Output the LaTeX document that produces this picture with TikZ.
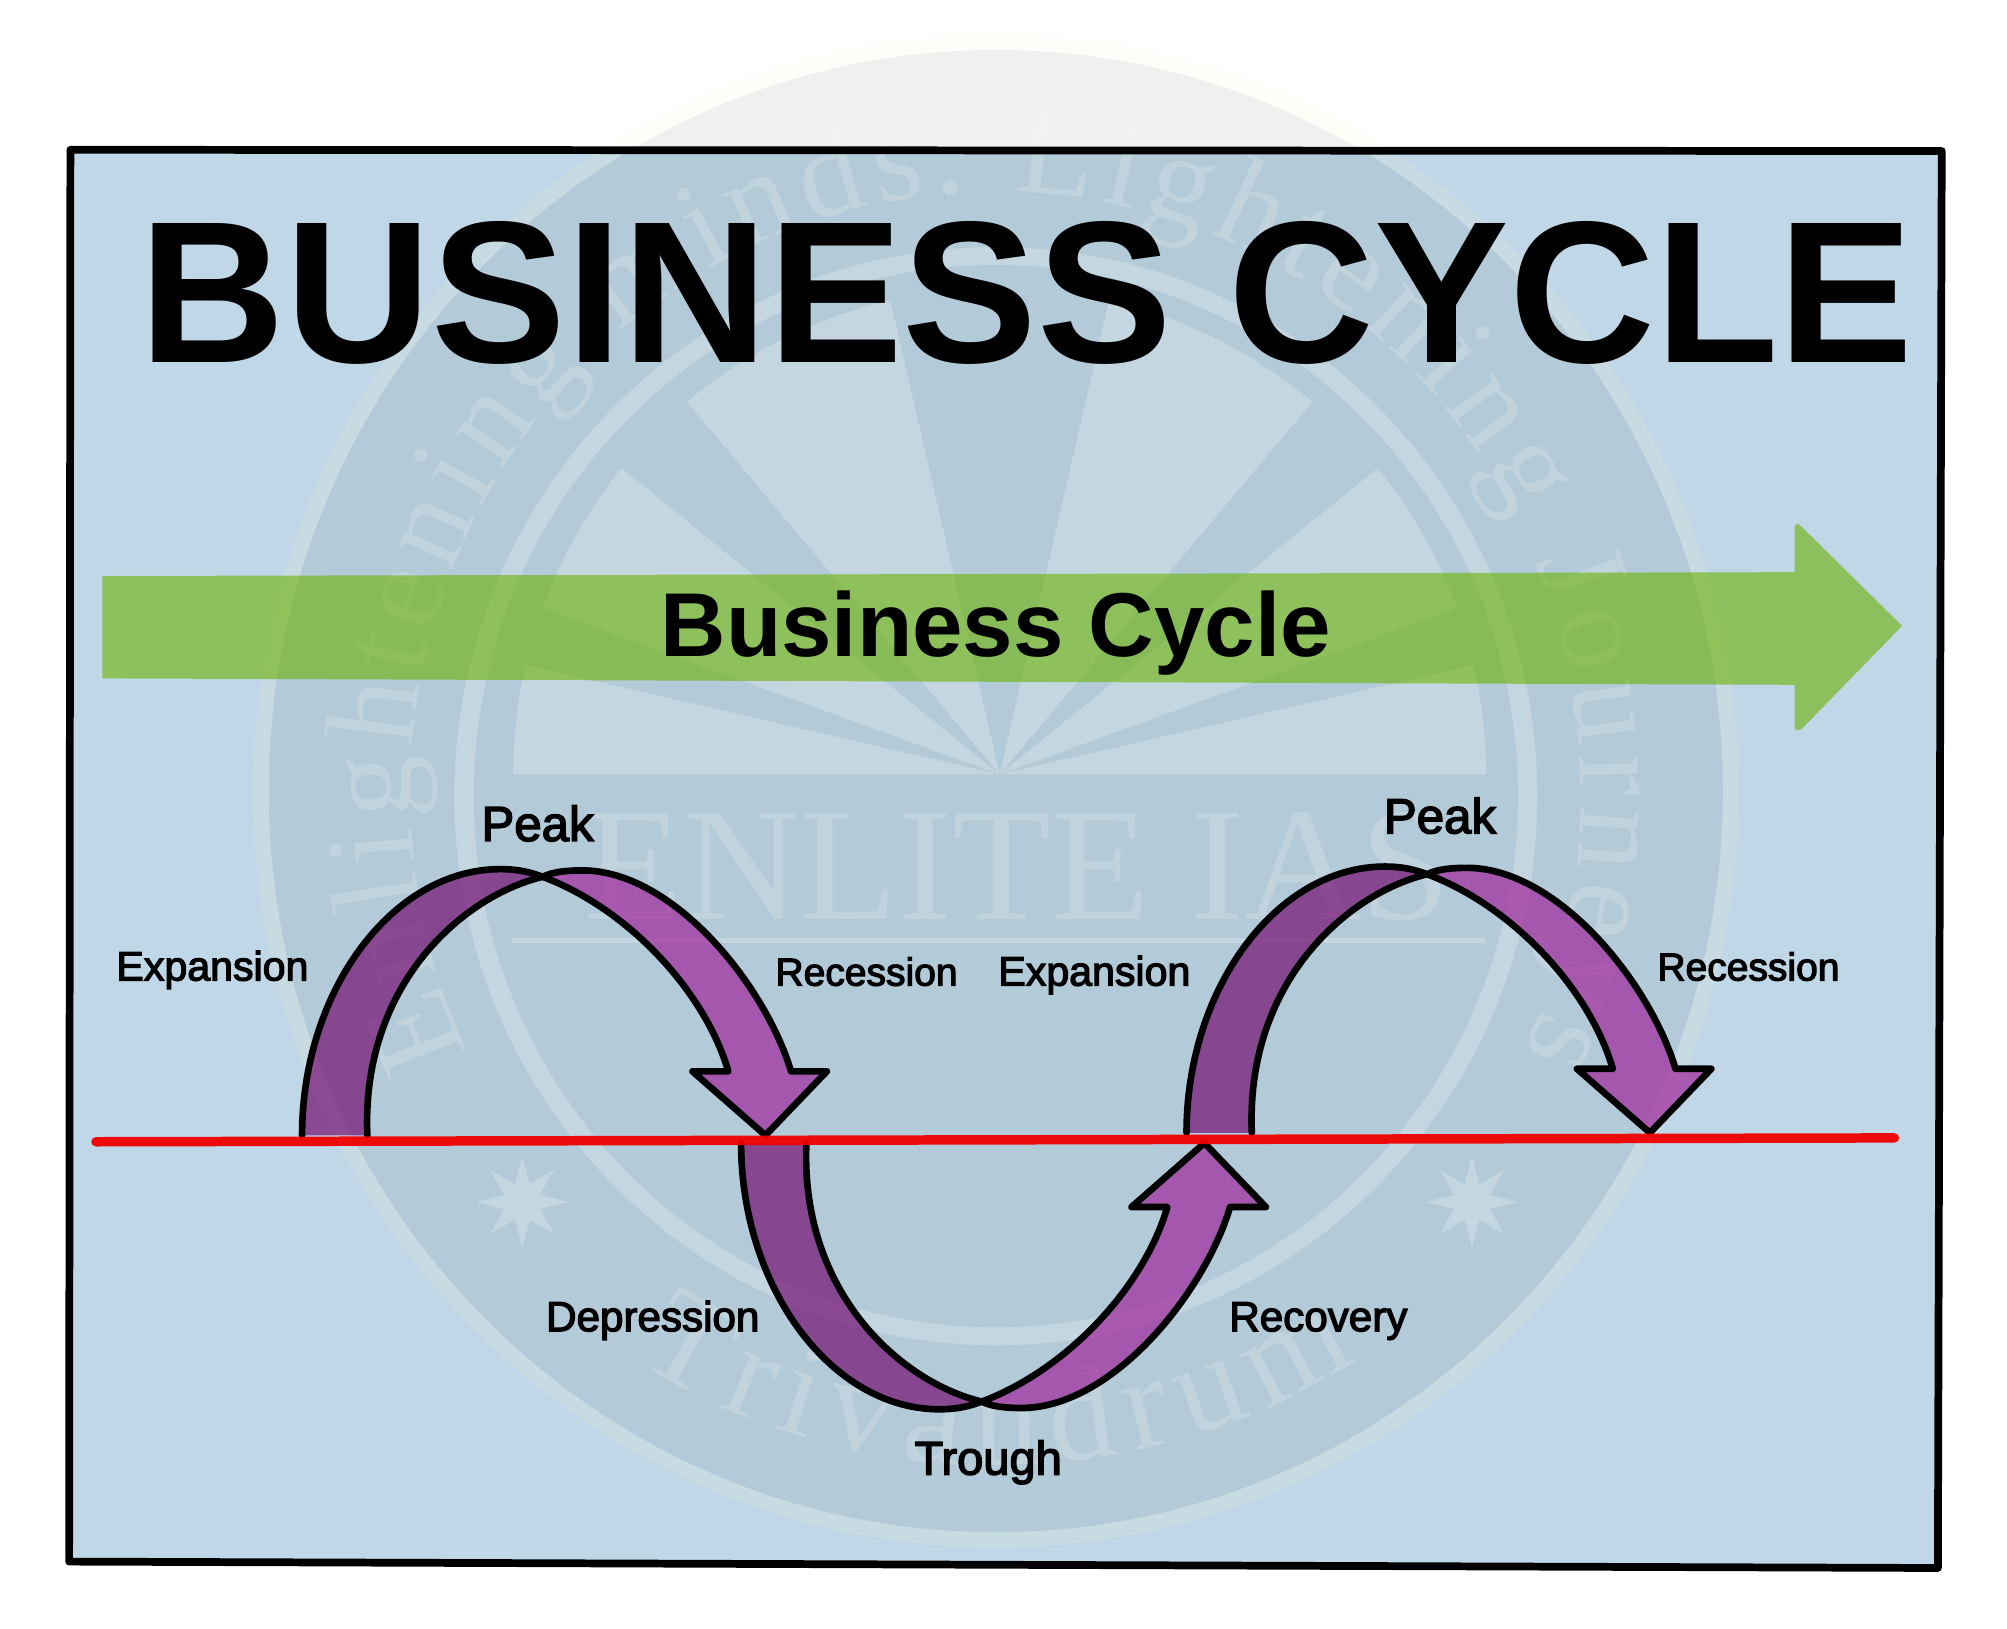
\documentclass[tikz,border=0pt]{standalone}
\usepackage{fontspec}
\usetikzlibrary{decorations.text, shapes.geometric}

\setmainfont{Liberation Sans}
\newfontfamily\wmfont{Liberation Serif}
\newfontfamily\labelfont[FakeBold=3]{Liberation Sans}

\definecolor{panelblue}{RGB}{191,215,230}
\definecolor{wmwhite}{RGB}{245,250,245}
\definecolor{halocol}{RGB}{255,246,205}
\definecolor{arrowgreen}{RGB}{107,178,3}
\definecolor{purpledark}{RGB}{121,27,120}
\definecolor{purplelight}{RGB}{161,49,159}
\definecolor{linered}{RGB}{240,0,0}

\tikzset{
    wmlight/.style={fill=wmwhite, fill opacity=0.27},
    wmtext/.style={font=\wmfont\fontsize{#1}{#1}\selectfont, text=wmwhite, text opacity=0.22, inner sep=0},
    small label/.style={font=\labelfont\fontsize{#1}{14}\selectfont, anchor=base, inner sep=0},
    small label/.default=11.8,
    big label/.style={font=\labelfont\fontsize{#1}{16}\selectfont, anchor=base, inner sep=0},
    big label/.default=14,
    band/.style={draw=black, line width=1.9pt, line join=round, line cap=round, fill opacity=0.75},
    wave/.pic={
        \draw[band, fill=purpledark] (0,-3) .. controls (0,-115) and (70,-211) .. (155,-211)
            .. controls (170,-211) and (180,-208) .. (188,-205)
            .. controls (125,-190) and (46,-120) .. (51,-3);
        \draw[band, fill=purplelight] (188,-205) .. controls (196,-209) and (207,-210) .. (219,-210)
            .. controls (290,-210) and (362,-120) .. (382,-53)
            -- (410,-53) -- (362,-3) -- (305,-53) -- (333,-53)
            .. controls (315,-115) and (255,-180) .. (188,-205) -- cycle;
    }
}

\begin{document}
\begin{tikzpicture}[x=0.0128cm, y=-0.0128cm]
    \useasboundingbox (0,0) rectangle (1568,1272);
    \fill[white] (0,0) rectangle (1568,1272);
    \fill[panelblue] (55,117) -- (1517,118) -- (1514,1225) -- (54,1220) -- cycle;

    % Watermark
    \fill[halocol, fill opacity=0.14, even odd rule] (778,618) circle[x radius=580, y radius=591] circle[x radius=568, y radius=579];
    \fill[black, fill opacity=0.06] (778,618) circle[x radius=568, y radius=579];
    \fill[wmlight, even odd rule] (778,622) circle[x radius=423, y radius=429] circle[x radius=408, y radius=415];
    \foreach \a/\b in {0/13, 20/39, 50/77, 103/130, 141/160, 167/180} {
        \fill[wmlight] (781,605) -- ++(-\a:380) arc[start angle=-\a, end angle=-\b, radius=380] -- cycle;
    }
    \fill[wmlight] (400,733) rectangle (1160,737);
    \node[wmtext=46] (wmname) at (795,718) [anchor=base] {ENLITE IAS};
    \node[star, star points=8, star point ratio=2.4, minimum size=72*0.0128cm, inner sep=0, wmlight] (starl) at (408,939) {};
    \node[star, star points=8, star point ratio=2.4, minimum size=72*0.0128cm, inner sep=0, wmlight] (starr) at (1150,939) {};
    \begin{scope}[opacity=0.22]
        \path[decorate, decoration={text along path, text align={fit to path},
            text={|\wmfont\fontsize{36}{36}\selectfont\color{wmwhite}|Enlightening minds. Lightening Journeys}}]
            (778,620) ++(-205.6:457 and 470) arc[start angle=-205.6, end angle=25.6, x radius=457, y radius=470];
        \path[decorate, decoration={text along path, text align={fit to path},
            text={|\wmfont\fontsize{38}{38}\selectfont\color{wmwhite}|Trivandrum}}]
            (778,620) ++(122.5:525) arc[start angle=122.5, end angle=57.5, radius=525];
    \end{scope}

    % Arrows
    \fill[arrowgreen, fill opacity=0.6] (80,450) -- (1402,447) -- (1402,413)
        .. controls (1402,409) and (1404,408) .. (1407,411) -- (1486,489) -- (1409,568)
        .. controls (1405,572) and (1402,571) .. (1402,567) -- (1402,535) -- (80,530) -- cycle;
    \pic at (236,890) {wave};
    \pic[yscale=-1] at (579,890) {wave};
    \pic at (927,888) {wave};
    \draw[linered, line width=2.7pt, line cap=round, opacity=0.95] (75,892) -- (1480,889);

    % Frame
    \draw[line width=2.2pt, line join=round] (55,117) -- (1517,118) -- (1514,1225) -- (54,1220) -- cycle;

    % Labels
    \node[anchor=base, inner sep=0, font=\bfseries\fontsize{57.5}{60}\selectfont] (title) at (802,283) {BUSINESS CYCLE};
    \node[anchor=base, inner sep=0, font=\bfseries\fontsize{25.8}{28}\selectfont] (subtitle) at (778,513) {Business Cycle};
    \node[big label] (peaka) at (420,657) {Peak};
    \node[big label] (peakb) at (1125,651) {Peak};
    \node[big label=13.4] (trough) at (772,1152) {Trough};
    \node[small label=11.7] (expa) at (166,766) {Expansion};
    \node[small label=11.7] (expb) at (855,770) {Expansion};
    \node[small label=11.1] (reca) at (677,770) {Recession};
    \node[small label=11.1] (recb) at (1366,766) {Recession};
    \node[small label=12] (depr) at (510,1040) {Depression};
    \node[small label=12] (recov) at (1030,1040) {Recovery};
\end{tikzpicture}
\end{document}
